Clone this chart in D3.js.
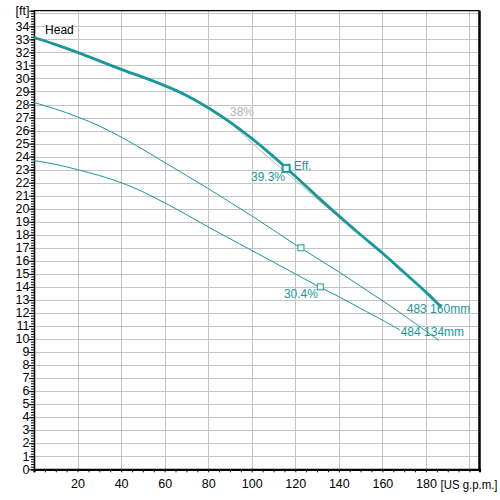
<!DOCTYPE html>
<html><head><meta charset="utf-8">
<script src="https://cdn.jsdelivr.net/npm/d3@7"></script>
<style>body{margin:0;background:#fff}svg{display:block}</style>
</head><body>
<svg id="c" width="500" height="500"></svg>
<script>
// ---- data ----
const flow160 = [0,10,20,30,40,50,60,70,80,90,100,110,120,130,140,150,160,170,180,187];
const head160 = [33.15,32.6,32.0,31.35,30.7,30.1,29.45,28.7,27.75,26.65,25.4,24.0,22.5,20.95,19.45,18.0,16.6,15.1,13.6,12.45];
const flowMid = [0,10,20,30,40,50,60,70,80,90,100,110,120,130,140,150,160,170,180,186];
const headMid = [28.15,27.65,27.05,26.35,25.5,24.55,23.55,22.55,21.55,20.5,19.45,18.35,17.25,16.2,15.15,14.05,12.95,11.8,10.6,9.9];
const flow134 = [0,10,20,30,40,50,60,70,80,90,100,110,120,130,140,150,160,168];
const head134 = [23.7,23.4,23.0,22.55,22.0,21.3,20.45,19.55,18.6,17.7,16.8,15.9,15.0,14.1,13.25,12.35,11.45,10.7];
const isoFlow = [90.5,100,110,120,130,140.5];
const isoHead = [26.6,25.05,23.6,22.2,20.75,19.3];
const markerFlow = [115.8,122.6,131.5];
const markerHead = [23.1,17.0,14.0];
const xTicks = [20,40,60,80,100,120,140,160,180];
const yTicks = d3.range(0,35,1);
const xUnit = "[US g.p.m.]";
const yUnit = "[ft]";
const labels = ["Head","Eff.","39.3%","30.4%","38%","483 160mm","484 134mm"];

// ---- scales ----
const svg = d3.select("#c");
const x = d3.scaleLinear().domain([0,204.6]).range([34,479.5]);
const y = d3.scaleLinear().domain([0,35.2]).range([469.3,10.7]);
const teal = "#17999a";
const font = "'Liberation Sans', Arial, sans-serif";

// grid
const g = svg.append("g");
g.selectAll(".hg").data(d3.range(1,36)).enter().append("line")
  .attr("x1",x(0)).attr("x2",x(204.6)).attr("y1",d=>Math.round(y(d))+0.5).attr("y2",d=>Math.round(y(d))+0.5)
  .attr("stroke","#c4c4c4").attr("stroke-width",1);
g.selectAll(".vg").data(d3.range(20,201,20)).enter().append("line")
  .attr("y1",y(0)).attr("y2",y(35.2)).attr("x1",d=>Math.round(x(d))+0.5).attr("x2",d=>Math.round(x(d))+0.5)
  .attr("stroke","#c4c4c4").attr("stroke-width",1);

// frame
svg.append("line").attr("x1",x(0)).attr("x2",x(204.6)).attr("y1",y(35.2)).attr("y2",y(35.2)).attr("stroke","#000").attr("stroke-width",1.2);
svg.append("line").attr("x1",x(204.6)).attr("x2",x(204.6)).attr("y1",y(35.2)).attr("y2",y(0)+1).attr("stroke","#000").attr("stroke-width",2.5);

// axes
const yAxis = d3.axisLeft(y).tickValues(d3.range(0,35.2,0.2)).tickSize(3).tickFormat("");
svg.append("g").attr("transform",`translate(${x(0)},0)`).call(yAxis)
  .call(a=>a.selectAll("line").attr("stroke","#000"))
  .call(a=>a.select(".domain").attr("stroke","#000").attr("stroke-width",1.5));
const yMaj = d3.axisLeft(y).tickValues(yTicks.concat([35.2])).tickSize(5)
  .tickFormat(d=> d===35.2 ? yUnit : d);
svg.append("g").attr("transform",`translate(${x(0)},0)`).call(yMaj)
  .call(a=>a.select(".domain").remove())
  .call(a=>a.selectAll("line").attr("stroke","#000"))
  .call(a=>a.selectAll("text").attr("font-family",font).attr("font-size",12.5).attr("fill","#000").attr("x",-4.5).attr("dy","0.3em"));

const xAxis = d3.axisBottom(x).tickValues(d3.range(0,201,5)).tickSize(3).tickFormat("");
svg.append("g").attr("transform",`translate(0,${y(0)})`).call(xAxis)
  .call(a=>a.selectAll("line").attr("stroke","#000"))
  .call(a=>a.select(".domain").attr("stroke","#000").attr("stroke-width",2.2));
const xMaj = d3.axisBottom(x).tickValues(xTicks).tickSize(0).tickPadding(10);
svg.append("g").attr("transform",`translate(0,${y(0)})`).call(xMaj)
  .call(a=>a.select(".domain").remove())
  .call(a=>a.selectAll("text").attr("font-family",font).attr("font-size",12.5).attr("fill","#000"));
svg.append("text").attr("x",440.5).attr("y",488.5).attr("font-family",font).attr("font-size",12)
  .attr("textLength",57).attr("lengthAdjust","spacingAndGlyphs").text(xUnit);

// curves
const line = d3.line().x(d=>x(d[0])).y(d=>y(d[1])).curve(d3.curveNatural);
const zip=(a,b)=>a.map((v,i)=>[v,b[i]]);
svg.append("path").attr("d",line(zip(isoFlow,isoHead))).attr("fill","none").attr("stroke","#b8b8b8").attr("stroke-width",1);
svg.append("path").attr("d",line(zip(flow134,head134))).attr("fill","none").attr("stroke",teal).attr("stroke-width",1);
svg.append("path").attr("d",line(zip(flowMid,headMid))).attr("fill","none").attr("stroke",teal).attr("stroke-width",1);
svg.append("path").attr("d",line(zip(flow160,head160))).attr("fill","none").attr("stroke",teal).attr("stroke-width",2.8);

// markers
markerFlow.forEach((f,i)=>{
  const s = i===0?7:6;
  svg.append("rect").attr("x",x(f)-s/2).attr("y",y(markerHead[i])-s/2).attr("width",s).attr("height",s)
    .attr("fill","#fff").attr("stroke",teal).attr("stroke-width",i===0?2:1);
});

// labels
const T=(txt,px,py,col,anchor)=>svg.append("text").attr("x",px).attr("y",py).attr("font-family",font).attr("font-size",12)
  .attr("fill",col).attr("text-anchor",anchor||"start").text(txt);
T(labels[0],x(5.1),y(33.4),"#000");
T(labels[1],x(119.3),y(23.0),teal);
T(labels[2],x(115.3),y(22.1),teal,"end");
T(labels[3],x(130.4),y(13.15),teal,"end");
T(labels[4],x(90),y(27.15),"#b4b4b4");
T(labels[5],x(171.2),y(12.0),teal);
T(labels[6],x(168.4),y(10.25),teal);
</script>
</body></html>
